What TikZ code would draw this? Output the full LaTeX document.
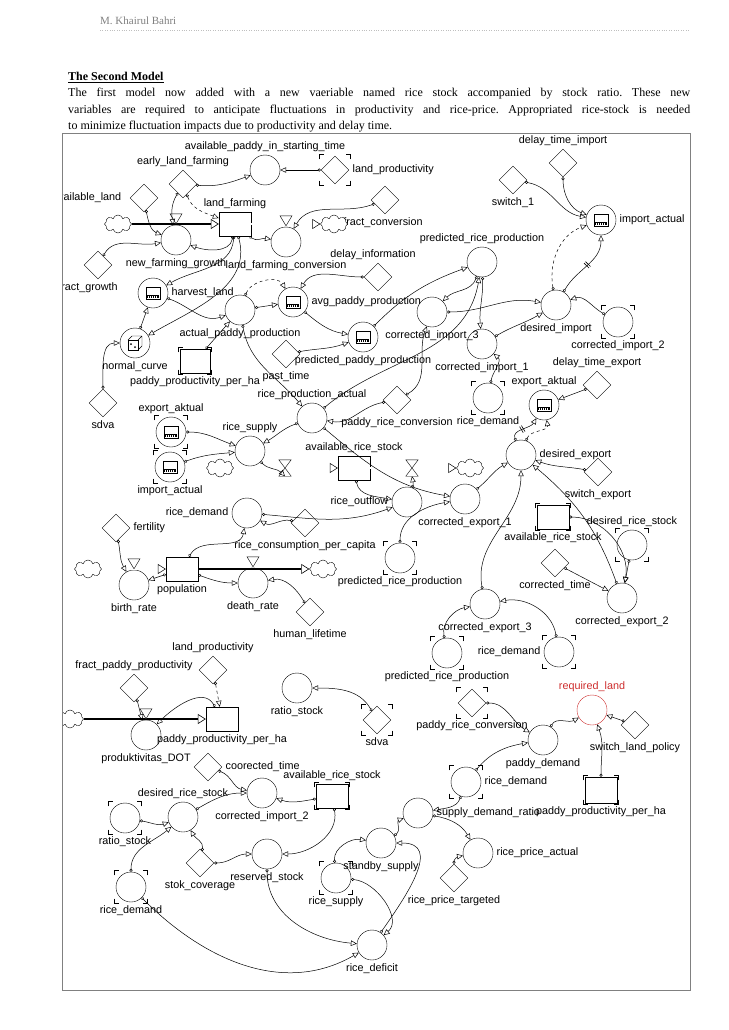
\documentclass[tikz,border=0pt]{standalone}
\usepackage{fontspec}
\setmainfont{Liberation Serif}
\newfontfamily\arial{Liberation Sans}
\usepackage{xcolor}
\usetikzlibrary{arrows.meta, shapes.geometric, shapes.symbols, calc}
\definecolor{rlred}{RGB}{205,45,45}
\frenchspacing

\newcommand{\ghost}[1]{%
  \foreach \a/\b/\sx/\sy in {north/west/-1/1, north/east/1/1, south/west/-1/-1, south/east/1/-1}
    \draw[line width=.9pt] ($(#1.\a -| #1.\b)+(1.5*\sx,1.5*\sy-5*\sy)$) -- ++(0,5*\sy) -- ++(-5*\sx,0);}
\newcommand{\tblicon}[1]{%
  \draw[fill=white] ($(#1)+(-7,-6)$) rectangle ($(#1)+(7,6)$);
  \fill ($(#1)+(-6,-5)$) rectangle ($(#1)+(6,-1.5)$);
  \foreach \i in {-4.5,-2.5,...,4.5} \draw[white,line width=.6pt] ($(#1)+(\i,-5)$) -- ++(0,2.5);}
\newcommand{\dmark}{\rule{.6pt}{7pt}\hspace{1.5pt}\rule{.6pt}{7pt}}

\begin{document}
\begin{tikzpicture}[x=1pt, y=1pt,
  every label/.append style={font=\arial\fontsize{10.8}{12}\selectfont},
  aux/.style={circle, draw, minimum size=30pt, inner sep=0pt},
  const/.style={diamond, draw, minimum size=28pt, inner sep=0pt},
  stock/.style={rectangle, draw, minimum width=32pt, minimum height=24pt, inner sep=0pt},
  src/.style={shape=cloud, draw, fill=white, cloud puffs=8, aspect=1.6, minimum width=27pt, minimum height=18pt, inner sep=0pt},
  valve/.style={minimum width=12pt, minimum height=16pt, inner sep=0pt},
  link/.style={{Circle[open,length=3pt,width=3pt]}-{Triangle[open,length=6pt,width=5.5pt]}, line width=.5pt},
  pipe/.style={double, double distance=1.6pt, line width=.5pt, -{Triangle[open,length=8pt,width=10pt]}},
  thickpipe/.style={line width=2.2pt, -{Triangle[open,length=8pt,width=10pt,line width=.6pt]}},
  dly/.style={sloped, inner sep=0pt, pos=.5}]
\useasboundingbox (0,0) rectangle (728,-1030);

\node[anchor=base west, inner sep=0pt, text=gray, font=\fontsize{11}{13}\selectfont] (auth) at (100,-25) {M. Khairul Bahri};
\draw[gray!50, dotted] (100,-30) -- (690,-30);
\node[anchor=base west, inner sep=0pt, font=\bfseries\fontsize{12}{14}\selectfont] (ttl) at (68,-81) {\underline{The Second Model}};
\node[anchor=north west, inner sep=0pt, align=left, font=\fontsize{12}{16.5}\selectfont] (par) at (68,-88)
  {\makebox[622pt][s]{The first model now added with a new vaeriable named rice stock accompanied by stock ratio. These new}\\
   \makebox[622pt][s]{variables are required to anticipate fluctuations in productivity and rice-price. Appropriated rice-stock is needed}\\
   to minimize fluctuation impacts due to productivity and delay time.};

\begin{scope}
\clip (62,-133) rectangle (690,-990);

\node[aux, label=above:available\_paddy\_in\_starting\_time] (aps) at (265,-170) {};
\node[const, label=right:land\_productivity] (lp1) at (335,-170) {};
\node[const, label=above:early\_land\_farming] (elf) at (183,-184) {};
\node[const, label={[xshift=-5pt]left:available\_land}] (al) at (144,-198) {};
\node[stock, label=above:land\_farming] (lf) at (235,-224) {};
\node[src] (cl1) at (118,-224) {};
\node[aux, label=below:new\_farming\_growth] (nfg) at (176,-240) {};
\node[aux, label=below:land\_farming\_conversion] (lfc) at (286,-242) {};
\node[const, label={[xshift=-2pt]below:fract\_conversion}] (fc) at (385,-200) {};
\node[src] (cl2) at (334,-224) {};
\node[const, label={[xshift=-10pt]below:fract\_growth}] (fg) at (98,-265) {};
\node[const, label={[xshift=-5pt]above:delay\_information}] (dinf) at (378,-277) {};
\node[aux, label=right:harvest\_land] (hl) at (153,-293) {};
\node[aux, label=below:actual\_paddy\_production] (apd) at (240,-310) {};
\node[aux, label=right:avg\_paddy\_production] (avg) at (293,-302) {};
\node[aux, label=below:normal\_curve] (nc) at (135,-343) {};
\node[stock, minimum width=30pt, label=below:paddy\_productivity\_per\_ha] (ppha1) at (195,-361) {};
\node[const, label=below:sdva] (sdva1) at (103,-403) {};
\node[const, label=below:past\_time] (pt) at (286,-354) {};
\node[aux, label=below:predicted\_paddy\_production] (ppp) at (363,-337) {};
\node[aux, label=below:corrected\_import\_3] (ci3) at (432,-312) {};
\node[aux, label=above:predicted\_rice\_production] (prp1) at (482,-262) {};
\node[aux, label=right:import\_actual] (ia1) at (601,-220) {};
\node[const, label=below:switch\_1] (sw1) at (513,-180) {};
\node[const, label=above:delay\_time\_import] (dti) at (563,-163) {};
\node[aux, label=below:desired\_import] (dimp) at (556,-305) {};
\node[aux, label=below:corrected\_import\_2] (ci2) at (618,-322) {};
\node[aux, label=below:corrected\_import\_1] (ci1) at (482,-344) {};
\node[aux, label=below:rice\_demand] (rd1) at (488,-398) {};
\node[const, label=below:paddy\_rice\_conversion] (prc1) at (397,-400) {};
\node[const, label=above:delay\_time\_export] (dte) at (597,-385) {};
\node[aux, label=above:export\_aktual] (ea1) at (544,-405) {};
\node[aux, label=above:rice\_production\_actual] (rpa) at (312,-418) {};

\node[aux, label=above:export\_aktual] (ea2) at (171,-432) {};
\node[aux, label=below:import\_actual] (ia2) at (170,-467) {};
\node[aux, label=above:rice\_supply] (rs) at (250,-451) {};
\node[src] (cl3) at (220,-468) {};
\node[stock, label=above:available\_rice\_stock] (ars) at (354,-468) {};
\node[valve] (vin) at (285,-468) {};
\node[valve] (vout) at (412,-468) {};
\node[src] (cl4) at (470,-468) {};
\node[aux, label=left:rice\_outflow] (ro) at (407,-502) {};
\node[aux, label=below:corrected\_export\_1] (ce1) at (465,-499) {};
\node[aux, label=right:desired\_export] (dexp) at (521,-455) {};
\node[const, label=below:switch\_export] (swe) at (598,-472) {};
\node[stock, label=below:available\_rice\_stock] (ars2) at (553,-517) {};
\node[aux, label=above:desired\_rice\_stock] (drs1) at (632,-545) {};
\node[const, label=below:corrected\_time] (ct1) at (555,-563) {};
\node[aux, label=below:corrected\_export\_2] (ce2) at (622,-598) {};
\node[aux, label=below:corrected\_export\_3] (ce3) at (485,-604) {};
\node[aux, label=below:predicted\_rice\_production] (prp2) at (400,-558) {};
\node[aux, label=left:rice\_demand] (rd2) at (247,-513) {};
\node[const, label=below:rice\_consumption\_per\_capita] (rcpc) at (305,-523) {};
\node[const, label=right:fertility] (fert) at (116,-528) {};
\node[stock, label=below:population] (pop) at (182,-569) {};
\node[aux, label=below:birth\_rate] (br) at (134,-585) {};
\node[aux, label=below:death\_rate] (dr) at (253,-583) {};
\node[src] (cl5) at (88,-569) {};
\node[src] (cl6) at (323,-569) {};
\node[const, label=below:human\_lifetime] (hlt) at (310,-612) {};

\node[const, label=above:land\_productivity] (lp2) at (213,-670) {};
\node[const, label=above:fract\_paddy\_productivity] (fpp) at (134,-688) {};
\node[stock, label=below:paddy\_productivity\_per\_ha] (ppha2) at (222,-719) {};
\node[aux, label=below:produktivitas\_DOT] (pdot) at (146,-735) {};
\node[src] (cl7) at (70,-719) {};
\node[aux, label=below:ratio\_stock] (rst1) at (297,-688) {};
\node[const, label=below:sdva] (sdva2) at (377,-720) {};
\node[const, label=below:paddy\_rice\_conversion] (prc2) at (472,-703) {};
\node[aux, label=below:predicted\_rice\_production] (prp3) at (447,-653) {};
\node[aux, label=left:rice\_demand] (rd3) at (559,-652) {};
\node[aux, draw=rlred, label={[text=rlred]above:required\_land}] (rl) at (592,-710) {};
\node[const, label=below:switch\_land\_policy] (slp) at (635,-725) {};
\node[aux, label=below:paddy\_demand] (pd) at (543,-740) {};
\node[aux, label=right:rice\_demand] (rd4) at (466,-782) {};
\node[stock, minimum height=26pt, label=below:paddy\_productivity\_per\_ha] (ppha3) at (601,-790) {};
\node[aux, label=right:supply\_demand\_ratio] (sdr) at (418,-813) {};
\node[aux, label=right:rice\_price\_actual] (rpact) at (478,-853) {};
\node[const, label=below:rice\_price\_targeted] (rpt) at (454,-878) {};
\node[aux, label=below:standby\_supply] (ss) at (381,-843) {};
\node[aux, label=below:rice\_supply] (rsup2) at (336,-878) {};
\node[aux, label=below:rice\_deficit] (rdef) at (372,-945) {};
\node[aux, label=below:reserved\_stock] (rsv) at (267,-854) {};
\node[const, label=below:stok\_coverage] (stc) at (200,-863) {};
\node[aux, label=below:corrected\_import\_2] (ci2b) at (262,-793) {};
\node[stock, label=above:available\_rice\_stock] (ars3) at (332,-796) {};
\node[const, label=right:coorected\_time] (ct2) at (208,-767) {};
\node[aux, label=above:desired\_rice\_stock] (drs2) at (183,-817) {};
\node[aux, label=below:ratio\_stock] (rst2) at (125,-818) {};
\node[aux, label=below:rice\_demand] (rd5) at (131,-887) {};

\draw[thickpipe] (cl1) -- (lf);
\draw[pipe] (lf) -- (cl2);
\draw[pipe] (cl3) -- (ars);
\draw[pipe] (ars) -- (cl4);
\draw[pipe] (cl5) -- (pop);
\draw[thickpipe] (pop) -- (cl6);
\draw[thickpipe] (cl7) -- (ppha2);
\foreach \v in {nfg,lfc,br,dr,pdot}
  \draw[fill=white] ($(\v.north)+(-6,11)$) -- ++(12,0) -- ++(-6,-10) -- cycle;
\foreach \v in {vin,vout}
  \draw (\v.north west) -- (\v.north east) -- (\v.south west) -- (\v.south east) -- cycle;

\foreach \n in {hl,avg,ppp,ia1,ea1,ea2,ia2} \tblicon{\n};
\draw[fill=white] ($(nc)+(-7,-7)$) rectangle ($(nc)+(3,3)$);
\draw ($(nc)+(-7,3)$) -- ++(4,4) -- ++(10,0) -- ++(0,-10) -- ++(-4,-4) ($(nc)+(3,3)$) -- ++(4,4);
\fill ($(nc)+(-4,-1)$) circle (1pt) ($(nc)+(0,-4)$) circle (1pt);
\foreach \n in {lp1,ppha1,ea2,ia2,rd1,ci2,prp2,ars2,drs1,prp3,rd3,sdva2,prc2,rd4,ppha3,ars3,rst2,rd5,rsup2} \ghost{\n};

\draw[link] (lp1) -- (aps);
\draw[link] (elf) to[out=-5,in=200] (aps);
\draw[link,dashed] (elf) to[out=-70,in=160] (lf);
\draw[link] (elf) to[out=240,in=100] (nfg);
\draw[link] (al) to[out=-80,in=160] (nfg);
\draw[link] (fg) to[out=60,in=190] (nfg);
\draw[link] (lf) to[out=-100,in=-20] (nfg);
\draw[link] (lf) to[out=-40,in=170] (lfc);
\draw[link] (fc) to[out=200,in=60] (lfc);
\draw[link] (lf) to[out=-95,in=30] (hl);
\draw[link] (lf) to[out=-75,in=30] (nc);
\draw[link] (sdva1) to[out=90,in=180] (nc);
\draw[link] (nc) -- (hl);
\draw[link] (hl) to[out=-20,in=200] (apd);
\draw[link] (ppha1) -- (apd);
\draw[link] (dinf) to[out=180,in=60] (avg);
\draw[link] (apd) -- (avg);
\draw[link,dashed] (apd) to[out=70,in=120] (avg);
\draw[link] (avg) to[out=-40,in=170] (ppp);
\draw[link] (pt) to[out=10,in=200] (ppp);
\draw[link] (ppp) to[out=45,in=200] (prp1);
\draw[link] (prp1) to[out=250,in=45] (ci3);
\draw[link] (prp1) to[out=-88,in=95] (ci1);
\draw[link] (rpa) to[out=40,in=-100] (prp1);
\draw[link] (ci3) to[out=0,in=170] (dimp);
\draw[link] (ci1) to[out=30,in=210] (dimp);
\draw[link] (rd1) to[out=80,in=-40] (ci1);
\draw[link] (ci2) to[out=150,in=20] (dimp);
\draw[link,dashed] (dimp) to[out=100,in=200] (ia1);
\draw[link] (dimp) to[out=60,in=-90] node[dly] (dm1) {\dmark} (ia1);
\draw[link] (sw1) to[out=-10,in=170] (ia1);
\draw[link] (dti) to[out=-90,in=160] (ia1);
\draw[link] (apd) to[out=-80,in=130] (rpa);
\draw[link] (prc1) to[out=190,in=-10] (rpa);
\draw[link] (prc1) to[out=30,in=-110] (ci3);
\draw[link] (rpa) to[out=200,in=30] (rs);
\draw[link] (rpa) to[out=-40,in=170] (ce1);
\draw[link] (ea2) to[out=0,in=160] (rs);
\draw[link] (ia2) to[out=20,in=185] (rs);
\draw[link] (rs) to[out=-45,in=135] (vin.south);
\draw[link] (ars) to[out=-80,in=170] (ro);
\draw[link] (ro) to[out=70,in=-80] (vout.south);
\draw[link] (rd2) to[out=-5,in=200] (ro);
\draw[link] (rcpc) to[out=170,in=-30] (rd2);
\draw[link] (pop) to[out=60,in=-100] (rd2);
\draw[link] (ce1) to[out=40,in=210] (dexp);
\draw[link] (prp2) to[out=90,in=190] (ce1);
\draw[link] (dexp) to[out=110,in=-120] node[dly] (dm2) {\dmark} (ea1);
\draw[link,dashed] (dexp) to[out=70,in=-80] (ea1);
\draw[link] (dte) -- (ea1);
\draw[link] (swe) to[out=170,in=-20] (dexp);
\draw[link] (ce3) to[out=100,in=-90] (dexp);
\draw[link] (ce2) to[out=110,in=-40] (dexp);
\draw[link] (ars2) to[out=0,in=80] (ce2);
\draw[link] (drs1) -- (ce2);
\draw[link] (ct1) -- (ce2);
\draw[link] (prp3) to[out=100,in=190] (ce3);
\draw[link] (rd3) to[out=100,in=10] (ce3);
\draw[link] (fert) to[out=-80,in=120] (br);
\draw[link] (pop) -- (br);
\draw[link] (pop) to[out=-20,in=180] (dr);
\draw[link] (hlt) to[out=120,in=10] (dr);
\draw[link] (fpp) -- (pdot);
\draw[link,dashed] (lp2) -- (ppha2);
\draw[link] (ppha2) to[out=120,in=45] (pdot);
\draw[link] (sdva2) to[out=120,in=0] (rst1);
\draw[link] (prc2) to[out=0,in=150] (pd);
\draw[link] (rd4) to[out=50,in=190] (pd);
\draw[link] (pd) to[out=60,in=210] (rl);
\draw[link] (slp) -- (rl);
\draw[link] (ppha3) to[out=90,in=-70] (rl);
\draw[link] (rd4) to[out=-110,in=10] (sdr);
\draw[link] (sdr) to[out=-10,in=120] (rpact);
\draw[link] (rpt) to[out=90,in=190] (rpact);
\draw[link] (ss) to[out=30,in=200] (sdr);
\draw[link] (rsup2) to[out=95,in=170] (ss);
\draw[link] (rsup2) to[out=-5,in=40] (rdef);
\draw[link] (rdef) to[out=55,in=0,looseness=1.3] (ss);
\draw[link] (rsv) to[out=-90,in=175] (rdef);
\draw[link] (rd5) to[out=-45,in=210] (rdef);
\draw[link] (rd5) to[out=90,in=220] (drs2);
\draw[link] (rst2) to[out=-10,in=200] (drs2);
\draw[link] (stc) to[out=80,in=-60] (drs2);
\draw[link] (stc) to[out=0,in=180] (rsv);
\draw[link] (drs2) to[out=30,in=180] (ci2b);
\draw[link] (ct2) to[out=-20,in=170] (ci2b);
\draw[link] (ars3) to[out=190,in=-20] (ci2b);
\draw[link] (ars3) to[out=-80,in=0] (rsv);
\end{scope}
\draw[gray, line width=.8pt] (62,-133) rectangle (690,-990);
\end{tikzpicture}
\end{document}
